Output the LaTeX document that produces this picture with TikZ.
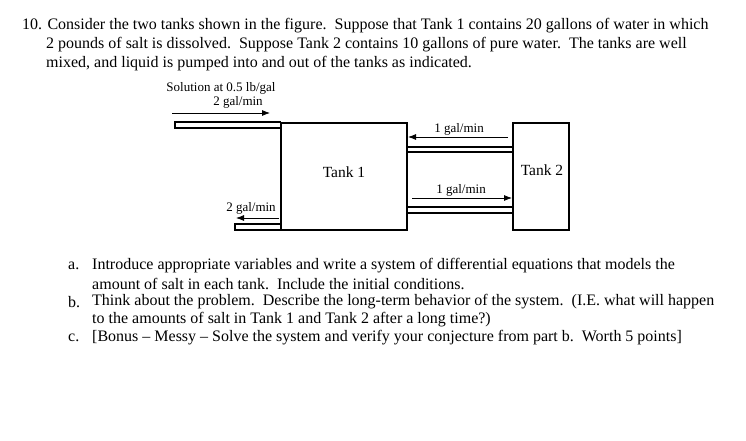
\documentclass[tikz,border=0pt]{standalone}
\usepackage{fontspec}
\setmainfont{Liberation Serif}
\usetikzlibrary{arrows.meta}
\begin{document}
\begin{tikzpicture}[x=1pt,y=-1pt,
  txt/.style={anchor=west,inner sep=0pt,font=\fontsize{16}{18}\selectfont},
  lbl/.style={inner sep=0pt,font=\fontsize{13}{15}\selectfont},
  tnk/.style={inner sep=0pt,font=\fontsize{15.5}{17}\selectfont},
  box/.style={draw,line width=1.6pt},
  pipe/.style={draw,line width=1.2pt},
  arr/.style={-{Latex[length=8pt,width=6pt]},line width=0.8pt}]
\useasboundingbox (0,0) rectangle (746,441);
\node[txt] (l1) at (22,26) {10. Consider the two tanks shown in the figure.\ \ Suppose that Tank 1 contains 20 gallons of water in which};
\node[txt] (l2) at (46,45) {2 pounds of salt is dissolved.\ \ Suppose Tank 2 contains 10 gallons of pure water.\ \ The tanks are well};
\node[txt] (l3) at (46,64) {mixed, and liquid is pumped into and out of the tanks as indicated.};
% tanks
\path[box] (281,123) rectangle (407,230);
\node[tnk] (t1) at (344,172) {Tank 1};
\path[box] (513,123) rectangle (569,230);
\node[tnk] (t2) at (542,170) {Tank 2};
% pipes
\path[pipe] (281,122) -- (175,122) -- (175,128) -- (281,128);
\path[pipe] (281,224) -- (235,224) -- (235,230) -- (281,230);
\path[pipe] (407,147) -- (513,147) (407,152) -- (513,152);
\path[pipe] (407,207) -- (513,207) (407,213) -- (513,213);
% arrows
\coordinate (a1s) at (172,113); \coordinate (a1e) at (270,113);
\draw[arr] (a1s) -- (a1e);
\coordinate (a2s) at (279,218); \coordinate (a2e) at (236,218);
\draw[arr] (a2s) -- (a2e);
\coordinate (a3s) at (508,137); \coordinate (a3e) at (408,137);
\draw[arr] (a3s) -- (a3e);
\coordinate (a4s) at (412,198); \coordinate (a4e) at (512,198);
\draw[arr] (a4s) -- (a4e);
\node[lbl] (s) at (221,88) {Solution at 0.5 lb/gal};
\node[lbl] (r1) at (238,102) {2 gal/min};
\node[lbl] (r2) at (251,208) {2 gal/min};
\node[lbl] (r3) at (459,129) {1 gal/min};
\node[lbl] (r4) at (461,190) {1 gal/min};
% questions
\node[txt] (qaL) at (68,266) {a.};
\node[txt] (qa) at (92,266) {Introduce appropriate variables and write a system of differential equations that models the};
\node[txt] (qa2) at (92,284) {amount of salt in each tank.\ \ Include the initial conditions.};
\node[txt] (qbL) at (68,302) {b.};
\node[txt] (qb) at (92,302) {Think about the problem.\ \ Describe the long-term behavior of the system.\ \ (I.E. what will happen};
\node[txt] (qb2) at (92,320) {to the amounts of salt in Tank 1 and Tank 2 after a long time?)};
\node[txt] (qcL) at (68,338) {c.};
\node[txt] (qc) at (92,338) {[Bonus -- Messy -- Solve the system and verify your conjecture from part b.\ \ Worth 5 points]};
\end{tikzpicture}
\end{document}
